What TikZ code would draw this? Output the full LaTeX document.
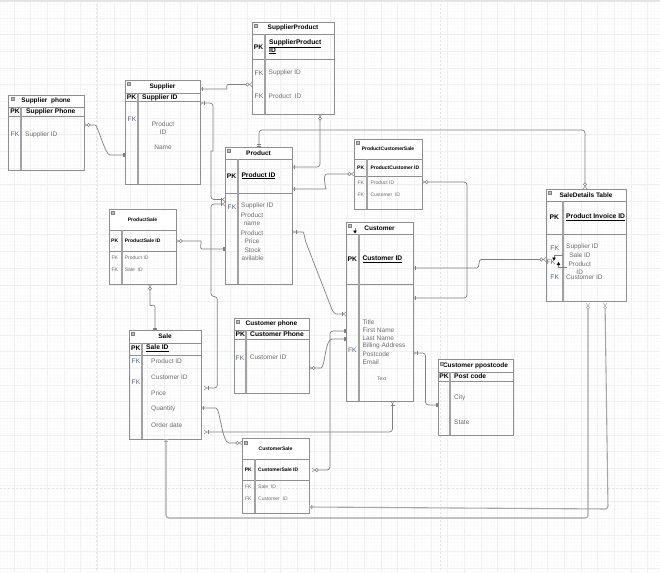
\documentclass[tikz,border=0pt]{standalone}
\usepackage{fontspec}
\setmainfont{Liberation Sans}
\usetikzlibrary{arrows.meta,bending}
\definecolor{boxgray}{HTML}{8E8E8E}
\definecolor{colgray}{HTML}{A2A2A2}
\definecolor{conngray}{HTML}{808080}
\definecolor{longgray}{HTML}{A6A6A6}
\definecolor{fieldgray}{HTML}{6C6C6C}
\definecolor{fkblue}{HTML}{5A6478}
\tikzset{
  onlyone/.tip={Bar[width=4pt,length=.6pt,sep=1.1pt]Bar[width=4pt,length=.6pt]},
  zeromany/.tip={Circle[open,length=3.6pt,width=3.6pt,fill=white,line width=.5pt,sep=0pt]Straight Barb[reversed,length=2.2pt,width=4pt,line width=.5pt]},
  onemany/.tip={Bar[width=4pt,length=.6pt,sep=.7pt]Straight Barb[reversed,length=2.2pt,width=4pt,line width=.5pt]},
  tablebox/.style={draw=boxgray,line width=.9pt,inner sep=0pt,outer sep=0pt},
  titlebox/.style={tablebox,fill=white,anchor=north west,font=\fontsize{6.5}{8}\selectfont\bfseries},
  smalltitle/.style={titlebox,font=\fontsize{5}{6}\selectfont\bfseries},
  rowline/.style={draw=boxgray,line width=.9pt},
  colline/.style={draw=colgray,line width=1.1pt},
  keybold/.style={inner sep=0pt,font=\fontsize{6.7}{8}\selectfont\bfseries},
  keyname/.style={keybold,anchor=west,align=left},
  keyfk/.style={inner sep=0pt,text=fkblue,font=\fontsize{6.7}{8}\selectfont},
  fieldname/.style={inner sep=0pt,text=fieldgray,anchor=west,font=\fontsize{6.5}{8}\selectfont},
  fieldmid/.style={inner sep=0pt,text=fieldgray,align=center,font=\fontsize{6.5}{8}\selectfont},
  smallbold/.style={inner sep=0pt,font=\fontsize{5}{6}\selectfont\bfseries},
  smallname/.style={smallbold,anchor=west},
  smallfk/.style={inner sep=0pt,text=fieldgray,font=\fontsize{5}{6}\selectfont},
  smallfield/.style={smallfk,anchor=west},
  iconbox/.style={draw=gray,fill=lightgray,line width=.4pt,minimum size=3pt,inner sep=0pt},
  conn/.style={draw=conngray,line width=.7pt,rounded corners=3pt},
  longconn/.style={draw=longgray,line width=1.1pt,rounded corners=3pt},
  selfconn/.style={draw=conngray,line width=.6pt,-{Triangle[length=3pt,width=3.5pt,black]}},
}
\begin{document}
\begin{tikzpicture}[x=1pt,y=-1pt]
    \useasboundingbox (0,0) rectangle (660,572);
    % grid
    \begin{scope}
        \clip (0,0) rectangle (660,572);
        \fill[white] (0,0) rectangle (660,572);
        \foreach \i in {0,...,197} \draw[black!1.5,line width=.4pt] ({0.556+3.336*\i},0) -- ({0.556+3.336*\i},572);
        \foreach \i in {0,...,171} \draw[black!1.5,line width=.4pt] (0,{1.32+3.336*\i}) -- (660,{1.32+3.336*\i});
        \foreach \i in {0,...,39} \draw[black!6,line width=.7pt] ({13.9+16.68*\i},0) -- ({13.9+16.68*\i},572);
        \foreach \i in {0,...,33} \draw[black!6,line width=.7pt] (0,{18+16.68*\i}) -- (660,{18+16.68*\i});
        \draw[black!11,dash pattern=on 2pt off 2pt,line width=.7pt] (96.5,0) -- (96.5,572);
        \draw[black!11,dash pattern=on 2pt off 2pt,line width=.7pt] (440.5,0) -- (440.5,572);
        \draw[black!11,dash pattern=on 2pt off 2pt,line width=.7pt] (0,488) -- (660,488);
        \fill[black!10] (0,0) rectangle (660,2);
    \end{scope}

    % supplier phone
    \node[tablebox,minimum width=76,minimum height=75] (supplierphone) at (46,132.5) {};
    \node[titlebox,minimum width=76,minimum height=12] (supplierphoneT) at (supplierphone.north west) {Supplier\ \ phone};
    \draw[rowline] (supplierphone.west |- 0,116) -- (supplierphone.east |- 0,116);
    \draw[colline] (supplierphoneT.south -| 21,0) -- (supplierphone.south -| 21,0);
    \node[keybold] (supplierphonePK) at (15,111.5) {PK};
    \node[keyname] (supplierphoneKey) at (26,111.5) {Supplier Phone};
    \node[keyfk] (supplierphoneFK) at (15,134.5) {FK};
    \node[fieldname] (supplierphoneF) at (25,134.5) {Supplier ID};

    % supplier
    \node[tablebox,minimum width=75,minimum height=104] (supplier) at (162.5,132) {};
    \node[titlebox,minimum width=75,minimum height=13] (supplierT) at (supplier.north west) {Supplier};
    \draw[rowline] (supplier.west |- 0,101) -- (supplier.east |- 0,101);
    \draw[colline] (supplierT.south -| 138,0) -- (supplier.south -| 138,0);
    \node[keybold] (supplierPK) at (131.5,97.5) {PK};
    \node[keyname] (supplierKey) at (142,97.5) {Supplier ID};
    \node[keyfk] (supplierFK) at (132,119.5) {FK};
    \node[fieldmid] (supplierF) at (163,128.3) {Product\\ID};
    \node[fieldmid] (supplierG) at (163,147.3) {Name};

    % supplier product
    \node[tablebox,minimum width=82,minimum height=92] (supplierproduct) at (293,68) {};
    \node[titlebox,minimum width=82,minimum height=12] (supplierproductT) at (supplierproduct.north west) {SupplierProduct};
    \draw[rowline] (supplierproduct.west |- 0,59) -- (supplierproduct.east |- 0,59);
    \draw[colline] (supplierproductT.south -| 265,0) -- (supplierproduct.south -| 265,0);
    \node[keybold] (supplierproductPK) at (258.5,46.7) {PK};
    \node[keyname] (supplierproductKey) at (269,46.7) {\underline{SupplierProduct}\\\underline{ID}};
    \node[keyfk] (supplierproductFK) at (259,72.7) {FK};
    \node[fieldname] (supplierproductF) at (268.5,72.7) {Supplier ID};
    \node[keyfk] (supplierproductFKb) at (259,96) {FK};
    \node[fieldname] (supplierproductG) at (268.5,96) {Product\ \ ID};

    % product
    \node[tablebox,minimum width=67,minimum height=137] (product) at (258.5,215.5) {};
    \node[titlebox,minimum width=67,minimum height=12] (productT) at (product.north west) {Product};
    \draw[rowline] (product.west |- 0,193) -- (product.east |- 0,193);
    \draw[colline] (productT.south -| 238,0) -- (product.south -| 238,0);
    \node[keybold] (productPK) at (231.5,175.7) {PK};
    \node[keyname] (productKey) at (241.3,175.7) {\underline{Product ID}};
    \node[keyfk] (productFK) at (232,207.3) {FK};
    \node[fieldname] (productF) at (241,205.7) {Supplier ID};
    \node[fieldmid] (productG) at (252,219.3) {Product\\name};
    \node[fieldmid] (productH) at (252,237.3) {Product\\Price};
    \node[fieldmid] (productI) at (252.7,254.5) {Stock\\avilable};

    % product customer sale
    \node[tablebox,minimum width=68,minimum height=70] (productcustomersale) at (388,174) {};
    \node[smalltitle,minimum width=68,minimum height=20] (productcustomersaleT) at (productcustomersale.north west) {ProductCustomerSale};
    \draw[rowline] (productcustomersale.west |- 0,176) -- (productcustomersale.east |- 0,176);
    \draw[colline] (productcustomersaleT.south -| 367,0) -- (productcustomersale.south -| 367,0);
    \node[smallbold] (productcustomersalePK) at (360.7,168) {PK};
    \node[smallname] (productcustomersaleKey) at (370.3,168) {ProductCustomer ID};
    \node[smallfk] (productcustomersaleFK) at (360.7,183) {FK};
    \node[smallfield] (productcustomersaleF) at (370.3,183) {Product ID};
    \node[smallfk] (productcustomersaleFKb) at (360.7,195) {FK};
    \node[smallfield] (productcustomersaleG) at (370.3,195) {Customer\ \ ID};

    % customer
    \node[tablebox,minimum width=67,minimum height=179] (customer) at (379.5,311.5) {};
    \node[titlebox,minimum width=67,minimum height=12] (customerT) at (customer.north west) {Customer};
    \draw[rowline] (customer.west |- 0,284) -- (customer.east |- 0,284);
    \draw[colline] (customerT.south -| 359,0) -- (customer.south -| 359,0);
    \node[keybold] (customerPK) at (352.3,259.3) {PK};
    \node[keyname] (customerKey) at (362.3,259.3) {\underline{Customer ID}};
    \node[keyfk] (customerFK) at (352.3,350.3) {FK};
    \node[fieldname] (customerA) at (362.3,322.3) {Title};
    \node[fieldname] (customerB) at (362.3,330.3) {First Name};
    \node[fieldname] (customerC) at (362.3,338.3) {Last Name};
    \node[fieldname] (customerD) at (362.3,346.3) {Billing Address};
    \node[fieldname] (customerE) at (362.3,354.3) {Postcode};
    \node[fieldname] (customerF) at (362.3,362.3) {Email};
    \node[smallfk] (customerG) at (381.7,379.3) {Text};

    % sale details
    \node[tablebox,minimum width=80,minimum height=112] (saledetails) at (586,245) {};
    \node[titlebox,minimum width=80,minimum height=12] (saledetailsT) at (saledetails.north west) {SaleDetails Table};
    \draw[rowline] (saledetails.west |- 0,234) -- (saledetails.east |- 0,234);
    \draw[colline] (saledetailsT.south -| 563,0) -- (saledetails.south -| 563,0);
    \node[keybold] (saledetailsPK) at (554.3,217.3) {PK};
    \node[keyname] (saledetailsKey) at (566,217.3) {\underline{Product Invoice ID}};
    \node[keyfk] (saledetailsFK) at (554.7,248.3) {FK};
    \node[keyfk] (saledetailsFKb) at (551,261.7) {FK};
    \node[keyfk] (saledetailsFKc) at (554.7,277.3) {FK};
    \node[fieldname] (saledetailsF) at (566,247.3) {Supplier ID};
    \node[fieldmid] (saledetailsG) at (580,254.7) {Sale ID};
    \node[fieldmid] (saledetailsH) at (579.7,267.7) {Product\\ID};
    \node[fieldname] (saledetailsI) at (566,277.3) {Customer ID};

    % product sale
    \node[tablebox,minimum width=67,minimum height=75] (productsale) at (142.5,246.5) {};
    \node[smalltitle,minimum width=67,minimum height=21] (productsaleT) at (productsale.north west) {ProductSale};
    \draw[rowline] (productsale.west |- 0,251) -- (productsale.east |- 0,251);
    \draw[colline] (productsaleT.south -| 122,0) -- (productsale.south -| 122,0);
    \node[smallbold] (productsalePK) at (114.7,241) {PK};
    \node[smallname] (productsaleKey) at (124.7,241) {ProductSale ID};
    \node[smallfk] (productsaleFK) at (114.7,258) {FK};
    \node[smallfield] (productsaleF) at (124.7,258) {Product ID};
    \node[smallfk] (productsaleFKb) at (114.7,270) {FK};
    \node[smallfield] (productsaleG) at (124.7,270) {Sale\ \ ID};

    % customer phone
    \node[tablebox,minimum width=75,minimum height=75] (customerphone) at (271.5,355.5) {};
    \node[titlebox,minimum width=75,minimum height=12] (customerphoneT) at (customerphone.north west) {Customer phone};
    \draw[rowline] (customerphone.west |- 0,339) -- (customerphone.east |- 0,339);
    \draw[colline] (customerphoneT.south -| 246,0) -- (customerphone.south -| 246,0);
    \node[keybold] (customerphonePK) at (240.3,334.3) {PK};
    \node[keyname] (customerphoneKey) at (250,334.3) {Customer Phone};
    \node[keyfk] (customerphoneFK) at (240,357.7) {FK};
    \node[fieldname] (customerphoneF) at (249.7,357.7) {Customer ID};

    % sale
    \node[tablebox,minimum width=72,minimum height=109] (sale) at (165,384.5) {};
    \node[titlebox,minimum width=72,minimum height=13] (saleT) at (sale.north west) {Sale};
    \draw[rowline] (sale.west |- 0,355) -- (sale.east |- 0,355);
    \draw[colline] (saleT.south -| 142,0) -- (sale.south -| 142,0);
    \node[keybold] (salePK) at (135.7,348.3) {PK};
    \node[keyname] (saleKey) at (146,348.3) {\underline{Sale ID}};
    \node[keyfk] (saleFK) at (136,361.3) {FK};
    \node[keyfk] (saleFKb) at (136,382.3) {FK};
    \node[fieldname] (saleA) at (151,361.3) {Product ID};
    \node[fieldname] (saleB) at (151,377.3) {Customer ID};
    \node[fieldname] (saleC) at (151,393.3) {Price};
    \node[fieldname] (saleD) at (151,409.3) {Quantity};
    \node[fieldname] (saleE) at (151,425.3) {Order date};

    % customer sale
    \node[tablebox,minimum width=67,minimum height=75] (customersale) at (275.5,475.5) {};
    \node[smalltitle,minimum width=67,minimum height=21] (customersaleT) at (customersale.north west) {CustomerSale};
    \draw[rowline] (customersale.west |- 0,480) -- (customersale.east |- 0,480);
    \draw[colline] (customersaleT.south -| 255,0) -- (customersale.south -| 255,0);
    \node[smallbold] (customersalePK) at (248.3,470) {PK};
    \node[smallname] (customersaleKey) at (258,470) {CustomerSale ID};
    \node[smallfk] (customersaleFK) at (248.3,487) {FK};
    \node[smallfield] (customersaleF) at (258,487) {Sale\ \ ID};
    \node[smallfk] (customersaleFKb) at (248.3,499) {FK};
    \node[smallfield] (customersaleG) at (258,499) {Customer\ \ ID};

    % customer postcode
    \node[tablebox,minimum width=75,minimum height=76] (customerpostcode) at (475.5,397) {};
    \node[titlebox,minimum width=75,minimum height=13] (customerpostcodeT) at (customerpostcode.north west) {Customer ppostcode};
    \draw[rowline] (customerpostcode.west |- 0,381) -- (customerpostcode.east |- 0,381);
    \draw[colline] (customerpostcodeT.south -| 450,0) -- (customerpostcode.south -| 450,0);
    \node[keybold] (customerpostcodePK) at (444,376.3) {PK};
    \node[keyname] (customerpostcodeKey) at (454,376.3) {Post code};
    \node[fieldname] (customerpostcodeF) at (454,398.3) {City};
    \node[fieldname] (customerpostcodeG) at (454,422.3) {State};

    % icons
    \foreach \n/\x/\y in {a/12.7/99,b/129/84,c/256/25.7,d/229/150.7,e/358/142.3,f/350/226,g/549.7/192.3,h/112.3/213,i/237.3/322,j/133/334,k/245.7/442.7,l/441.7/363.3}
        \node[iconbox] (icon\n) at (\x,\y) {};

    % connectors
    \draw[conn,arrows=zeromany-onlyone] (supplierphone.east |- 0,125) -- (92,125) .. controls (98,125) and (105,155) .. (113,155) -- (supplier.west |- 0,155);
    \draw[conn,arrows=onlyone-zeromany] (supplier.east |- 0,89) -- (224,89) .. controls (227,89) and (226,84.5) .. (231,84.5) -- (supplierproduct.west |- 0,84.5);
    \draw[conn,arrows=onemany-onemany] (supplier.east |- 0,103) -- (213,103) -- (213,148) .. controls (213,151) and (211,151) .. (211,154) -- (211,199.5) -- (product.west |- 0,199.5);
    \draw[conn,arrows=onemany-onemany,shorten <=3pt] (sale.east |- 0,388) -- (217.3,388) -- (217.3,296.5) -- (211,296.5) -- (211,204) -- (product.west |- 0,204);
    \draw[conn,arrows=zeromany-onlyone] (productsale.east |- 0,241) -- (198,241) .. controls (202,241) and (199,249) .. (205,249) -- (product.west |- 0,249);
    \draw[conn,arrows=zeromany-onlyone] (150,0 |- productsale.south) -- (150,302) .. controls (150,307) and (155,303) .. (155,310) -- (155,0 |- sale.north);
    \draw[conn,arrows=zeromany-onlyone] (320,0 |- supplierproduct.south) -- (320,167) -- (product.east |- 0,167);
    \draw[conn,arrows=onlyone-zeromany] (product.east |- 0,189) -- (323,189) .. controls (326,189) and (322,174) .. (330,174) -- (productcustomersale.west |- 0,174);
    \draw[conn,arrows=onlyone-zeromany] (259,0 |- product.north) -- (259,130) -- (585,130) -- (585,0 |- saledetails.north);
    \draw[conn,arrows=onemany-onemany] (product.east |- 0,232) -- (300,232) .. controls (304,232) and (305,240) .. (307,245) -- (331,307) .. controls (333,312) and (335,314) .. (339,314) -- (customer.west |- 0,314);
    \draw[conn,arrows=zeromany-onlyone] (productcustomersale.east |- 0,182) -- (467,182) -- (467,298) -- (customer.east |- 0,298);
    \draw[conn,arrows=onlyone-zeromany] (customer.east |- 0,268) -- (474,268) .. controls (480,268) and (478,259.5) .. (484,259.5) -- (saledetails.west |- 0,259.5);
    \draw[conn,arrows=zeromany-onlyone] (customerphone.east |- 0,368) -- (318,368) .. controls (325,368) and (325,339) .. (335,339) -- (customer.west |- 0,339);
    \draw[conn,arrows=zeromany-onlyone,shorten <=3pt] (customersale.east |- 0,470) -- (330,470) -- (330,331) -- (customer.west |- 0,331);
    \draw[conn,arrows=onemany-onemany,shorten <=3pt] (sale.east |- 0,432) -- (392.5,432) -- (392.5,0 |- customer.south);
    \draw[conn,arrows=onlyone-zeromany] (sale.east |- 0,408) -- (213,408) .. controls (220,408) and (222,443) .. (232,443) -- (customersale.west |- 0,443);
    \draw[conn,arrows=onemany-onlyone] (customer.east |- 0,353) -- (425.5,353) -- (425.5,405) -- (customerpostcode.west |- 0,405);
    \draw[longconn,arrows=onlyone-zeromany,shorten >=2pt] (166,0 |- sale.south) -- (166,518) -- (588,518) -- (588,0 |- saledetails.south);
    \draw[longconn,arrows=onlyone-zeromany,shorten >=2pt] (customersale.east |- 0,507) -- (608,509) -- (605,0 |- saledetails.south);

    % small arrows inside
    \coordinate (selfa) at (563,255);
    \coordinate (selfb) at (554,255);
    \coordinate (selfc) at (554,260.5);
    \coordinate (selfd) at (567,267.5);
    \coordinate (selfe) at (558.5,267.5);
    \coordinate (selff) at (558.5,262);
    \coordinate (stuba) at (355,228);
    \coordinate (stubb) at (355,233.5);
    \draw[selfconn] (selfa) -- (selfb) -- (selfc);
    \draw[selfconn] (selfd) -- (selfe) -- (selff);
    \draw[selfconn] (stuba) -- (stubb);
\end{tikzpicture}
\end{document}
